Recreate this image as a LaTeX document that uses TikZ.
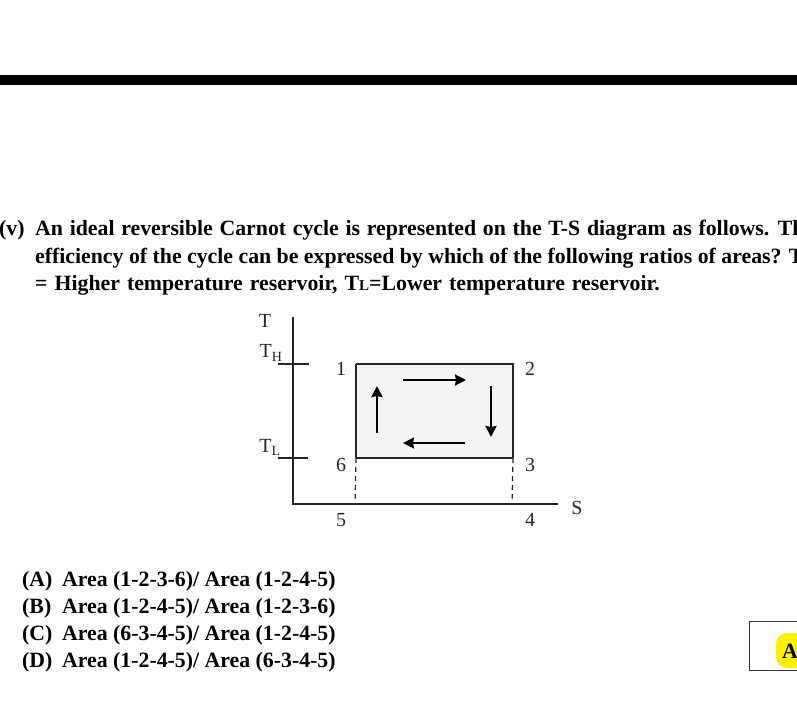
\documentclass[tikz,border=0pt]{standalone}
\usepackage{fontspec}
\setmainfont{Liberation Serif}
\usetikzlibrary{arrows.meta}
\tikzstyle{arrow} = [line width=1.9pt,-{Stealth[length=11pt,width=11pt,inset=1pt]}]
\tikzstyle{axis} = [line width=1.2pt,black!85]
\tikzstyle{linetext} = [anchor=base west,inner sep=0pt,font=\fontsize{21.8}{21.8}\selectfont\bfseries]
\tikzstyle{plotlabel} = [inner sep=0pt,font=\fontsize{20}{20}\selectfont,black!85]
\begin{document}
\begin{tikzpicture}[x=1pt,y=-1pt]
        \useasboundingbox (0,0) rectangle (797,723);
        \clip (0,0) rectangle (797,723);
        \fill[black] (0,75) rectangle (797,85);
        % question
        \node[linetext] (qno) at (-1,235) {(v)};
        \node[linetext] (qa) at (35,235) {\spaceskip=6.7pt An ideal reversible Carnot cycle is represented on the T-S diagram as follows. The};
        \node[linetext] (qb) at (35,263) {efficiency of the cycle can be expressed by which of the following ratios of areas? TH};
        \node[linetext] (qc) at (35,290) {\spaceskip=7pt = Higher temperature reservoir, T{\fontsize{15}{15}\selectfont L}=Lower temperature reservoir.};
        % corners of the cycle
        \coordinate (c1) at (356,364);
        \coordinate (c2) at (513,364);
        \coordinate (c3) at (513,458);
        \coordinate (c6) at (356,458);
        \coordinate (c4) at (512,504);
        \coordinate (c5) at (355,504);
        \coordinate (origin) at (293,504);
        \coordinate (ytop) at (293,317);
        \coordinate (xend) at (558,504);
        \fill[black!4] (c1) rectangle (c3);
        \draw[axis] (c1) -- (c2) -- (c3);
        \draw[axis] (c1) -- (c6);
        \draw[line width=1.6pt,black!85] (c6) -- (c3);
        \draw[axis,dash pattern=on 5pt off 4pt] (c6) -- (c5);
        \draw[axis,dash pattern=on 5pt off 4pt] (c3) -- (c4);
        \draw[axis] (ytop) -- (origin) -- (xend);
        \coordinate (thl) at (278,364);
        \coordinate (thr) at (309,364);
        \coordinate (tll) at (278,458);
        \coordinate (tlr) at (308,458);
        \draw[axis] (thl) -- (thr);
        \draw[axis] (tll) -- (tlr);
        % cycle direction
        \coordinate (ta) at (403,380);
        \coordinate (tb) at (466,380);
        \coordinate (ra) at (491,386);
        \coordinate (rb) at (491,437);
        \coordinate (ba) at (465,443);
        \coordinate (bb) at (403,443);
        \coordinate (la) at (377,433);
        \coordinate (lb) at (377,386);
        \draw[arrow,line width=2pt] (ta) -- (tb);
        \draw[arrow,line width=2.8pt] (ra) -- (rb);
        \draw[arrow,line width=2pt] (ba) -- (bb);
        \draw[arrow,line width=2.8pt] (la) -- (lb);
        % labels
        \node[plotlabel] (lT) at (265,321) {T};
        \node[plotlabel] (lTH) at (271,353) {T\textsubscript{H}};
        \node[plotlabel] (lTL) at (270,447) {T\textsubscript{L}};
        \node[plotlabel] (n1) at (341,369) {1};
        \node[plotlabel] (n2) at (530,369) {2};
        \node[plotlabel] (n3) at (530,465) {3};
        \node[plotlabel] (n4) at (530,520) {4};
        \node[plotlabel] (n5) at (341,520) {5};
        \node[plotlabel] (n6) at (341,465) {6};
        \node[plotlabel] (lS) at (577,508) {S};
        % options
        \node[linetext] (optA) at (22,586) {\makebox[40pt][l]{(A)}Area (1-2-3-6)/ Area (1-2-4-5)};
        \node[linetext] (optB) at (22,613) {\makebox[40pt][l]{(B)}Area (1-2-4-5)/ Area (1-2-3-6)};
        \node[linetext] (optC) at (22,640) {\makebox[40pt][l]{(C)}Area (6-3-4-5)/ Area (1-2-4-5)};
        \node[linetext] (optD) at (22,667) {\makebox[40pt][l]{(D)}Area (1-2-4-5)/ Area (6-3-4-5)};
        % answer box
        \draw[line width=1pt,black!80] (800,621.5) -- (749.5,621.5) -- (749.5,670.5) -- (800,670.5);
        \fill[yellow,rounded corners=11pt] (776,633) rectangle (815,668);
        \node[linetext] (ans) at (782,658) {A};
    \end{tikzpicture}
\end{document}
